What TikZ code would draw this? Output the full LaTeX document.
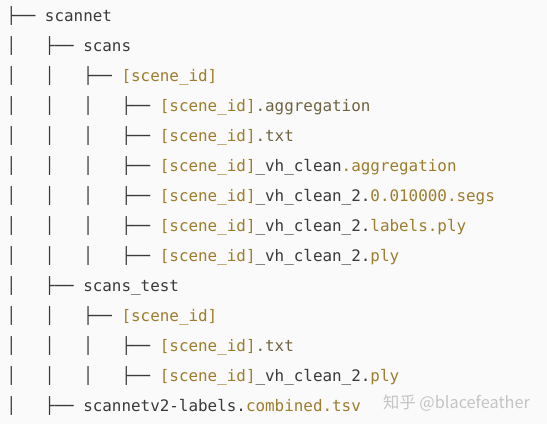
\documentclass[tikz,border=0pt]{standalone}
\usepackage{fontspec}
\setmonofont{DejaVu Sans Mono}
\newfontfamily\cjkfont{Noto Sans CJK SC}
\definecolor{bgc}{HTML}{FAFAFA}
\definecolor{txc}{HTML}{3A3A3A}
\definecolor{gld}{HTML}{9D7D2E}
\definecolor{olv}{HTML}{6E6442}
\definecolor{wmc}{HTML}{C4C4C4}
\newcommand{\G}[1]{\textcolor{gld}{#1}}
\newcommand{\OL}[1]{\textcolor{olv}{#1}}
\newcommand{\I}{│~~~}
\newcommand{\T}{├──~}
\newcommand{\SID}{\G{[scene\_id]}}
\begin{document}
\begin{tikzpicture}[x=1pt,y=1pt,
  rowtext/.style={anchor=base west,inner sep=0pt,text=txc,font=\ttfamily\fontsize{15.9}{19}\selectfont},
  wmark/.style={anchor=base west,inner sep=0pt,text=wmc,font=\cjkfont\fontsize{16.3}{19}\selectfont}]
\fill[bgc] (0,0) rectangle (547,-424);
\useasboundingbox (0,0) rectangle (547,-424);
\node[rowtext] (r0) at (6.5,-21) {\T scannet};
\node[rowtext] (r1) at (6.5,-51) {\I\T scans};
\node[rowtext] (r2) at (6.5,-81) {\I\I\T\SID};
\node[rowtext] (r3) at (6.5,-111) {\I\I\I\T\SID\OL{.aggregation}};
\node[rowtext] (r4) at (6.5,-141) {\I\I\I\T\SID\OL{.txt}};
\node[rowtext] (r5) at (6.5,-171) {\I\I\I\T\SID\_vh\_clean\G{.aggregation}};
\node[rowtext] (r6) at (6.5,-201) {\I\I\I\T\SID\_vh\_clean\_2.\G{0.010000.segs}};
\node[rowtext] (r7) at (6.5,-231) {\I\I\I\T\SID\_vh\_clean\_2.\G{labels.ply}};
\node[rowtext] (r8) at (6.5,-261) {\I\I\I\T\SID\_vh\_clean\_2.\G{ply}};
\node[rowtext] (r9) at (6.5,-291) {\I\T scans\_test};
\node[rowtext] (r10) at (6.5,-321) {\I\I\T\SID};
\node[rowtext] (r11) at (6.5,-351) {\I\I\I\T\SID\OL{.txt}};
\node[rowtext] (r12) at (6.5,-381) {\I\I\I\T\SID\_vh\_clean\_2.\G{ply}};
\node[rowtext] (r13) at (6.5,-411) {\I\T scannetv2-labels.\G{combined.tsv}};
\node[wmark] (wm) at (383,-408) {知乎 @blacefeather};
\end{tikzpicture}
\end{document}
